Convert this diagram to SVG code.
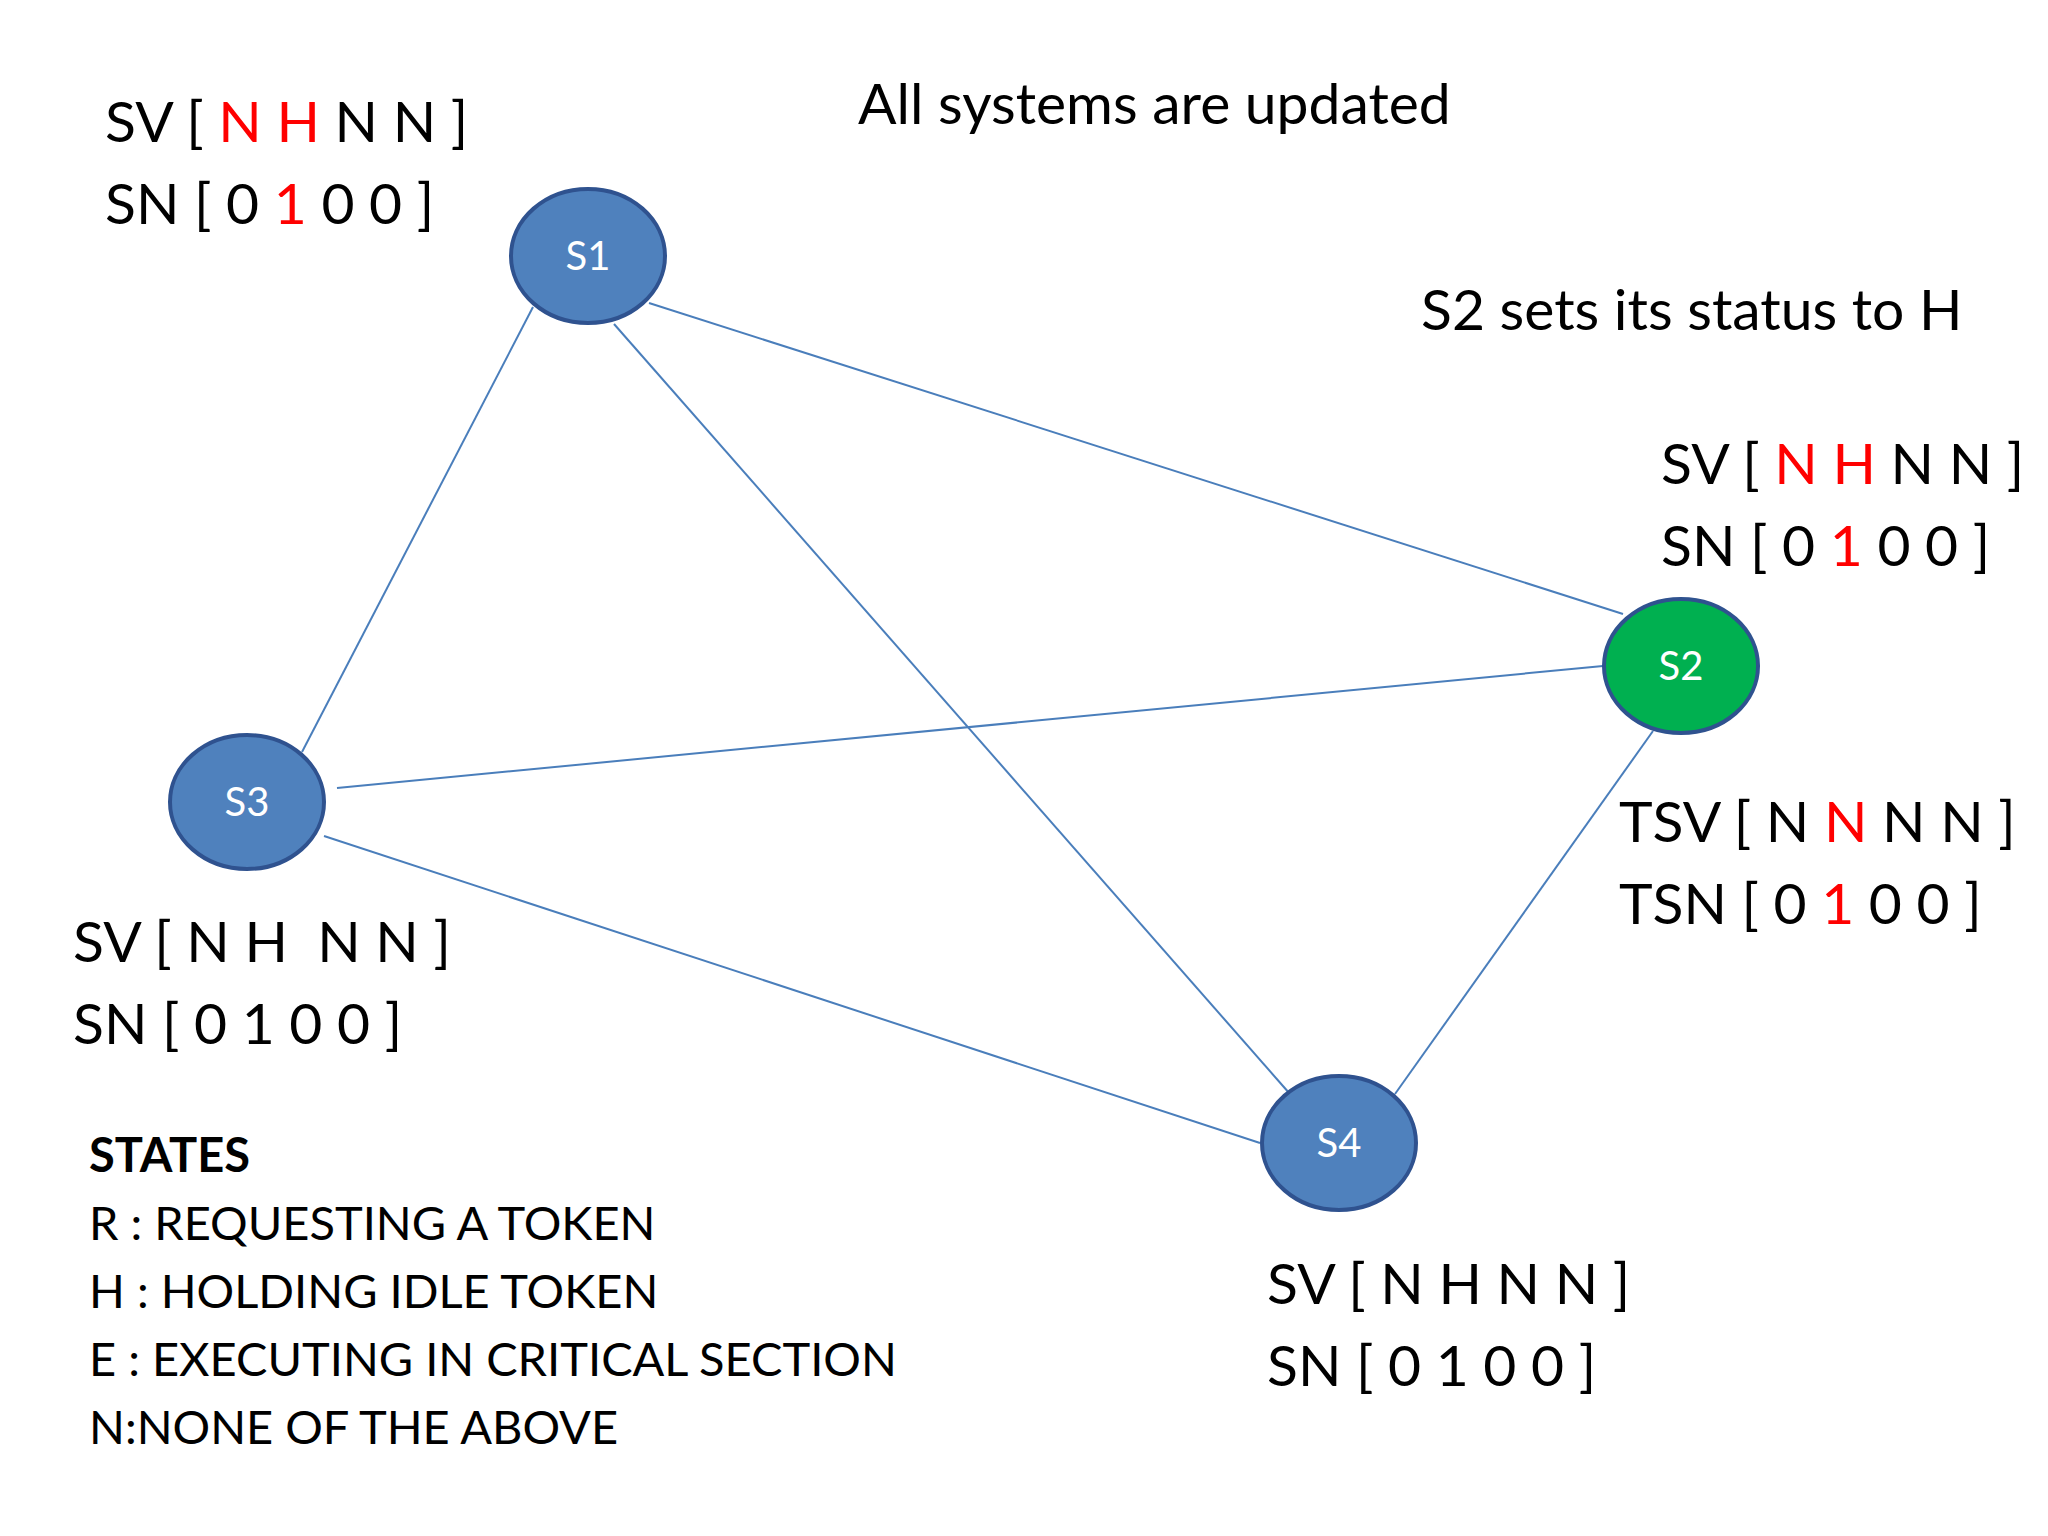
<svg xmlns="http://www.w3.org/2000/svg" width="2048" height="1536" viewBox="0 0 2048 1536">
<style>
text{font-family:Lato,"Open Sans","Liberation Sans",sans-serif;fill:#000}
.big{font-size:57px}
.st{font-size:47px}
.r{fill:#f00}
.node{stroke:#2F528F;stroke-width:4}
.lbl{font-size:40px;fill:#fff;text-anchor:middle}
.c{stroke:#4A7EBB;stroke-width:2;fill:none}
</style>
<rect width="2048" height="1536" fill="#fff"/>
<g id="connectors">
<line class="c" x1="533" y1="307" x2="302" y2="752"/>
<line class="c" x1="649" y1="303" x2="1623" y2="614"/>
<line class="c" x1="614" y1="324" x2="1290" y2="1094"/>
<line class="c" x1="337" y1="788" x2="1603" y2="666"/>
<line class="c" x1="324" y1="836" x2="1260" y2="1143"/>
<line class="c" x1="1653" y1="731" x2="1395" y2="1094"/>
</g>
<g id="S1"><ellipse class="node" cx="588" cy="256" rx="77" ry="67" fill="#4F81BD"/><text class="lbl" x="588" y="270">S1</text></g>
<g id="S2"><ellipse class="node" cx="1681" cy="666" rx="77" ry="67" fill="#00B050"/><text class="lbl" x="1681" y="680">S2</text></g>
<g id="S3"><ellipse class="node" cx="247" cy="802" rx="77" ry="67" fill="#4F81BD"/><text class="lbl" x="247" y="816">S3</text></g>
<g id="S4"><ellipse class="node" cx="1339" cy="1143" rx="77" ry="67" fill="#4F81BD"/><text class="lbl" x="1339" y="1157">S4</text></g>
<text class="big" x="858" y="124">All systems are updated</text>
<text class="big" x="1421" y="330">S2 sets its status to H</text>
<text class="big" x="105" y="142" xml:space="preserve">SV [ <tspan class="r">N H</tspan> N N ]</text>
<text class="big" x="105" y="224" xml:space="preserve">SN [ 0 <tspan class="r">1</tspan> 0 0 ]</text>
<text class="big" x="1661" y="484" xml:space="preserve">SV [ <tspan class="r">N H</tspan> N N ]</text>
<text class="big" x="1661" y="566" xml:space="preserve">SN [ 0 <tspan class="r">1</tspan> 0 0 ]</text>
<text class="big" x="1619" y="842" xml:space="preserve">TSV [ N <tspan class="r">N</tspan> N N ]</text>
<text class="big" x="1619" y="924" xml:space="preserve">TSN [ 0 <tspan class="r">1</tspan> 0 0 ]</text>
<text class="big" x="73" y="962" xml:space="preserve">SV [ N H  N N ]</text>
<text class="big" x="73" y="1044" xml:space="preserve">SN [ 0 1 0 0 ]</text>
<text class="big" x="1267" y="1304" xml:space="preserve">SV [ N H N N ]</text>
<text class="big" x="1267" y="1386" xml:space="preserve">SN [ 0 1 0 0 ]</text>
<text class="st" x="89" y="1172" font-weight="bold">STATES</text>
<text class="st" x="89" y="1240">R : REQUESTING A TOKEN</text>
<text class="st" x="89" y="1308">H : HOLDING IDLE TOKEN</text>
<text class="st" x="89" y="1376">E : EXECUTING IN CRITICAL SECTION</text>
<text class="st" x="89" y="1444">N:NONE OF THE ABOVE</text>
</svg>
